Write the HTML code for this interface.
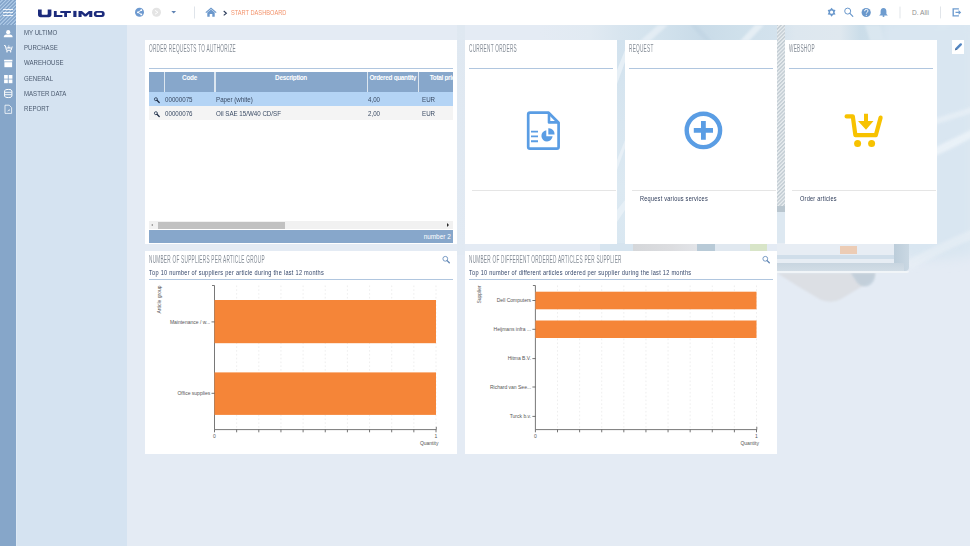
<!DOCTYPE html>
<html><head><meta charset="utf-8">
<style>
*{margin:0;padding:0;box-sizing:border-box}
html,body{width:970px;height:546px;overflow:hidden;background:#e4ebf4;font-family:"Liberation Sans",sans-serif;position:relative}
.a{position:absolute}
.t{white-space:nowrap;line-height:1}
#hdr{left:0;top:0;width:970px;height:25px;background:#fff}
#iconbar{left:0;top:0;width:16px;height:546px;background:#86a6c9}
#hatch{left:0;top:0;width:16px;height:25px;background:repeating-linear-gradient(135deg,#82a3c9 0,#86a7cc 0.9px,#adc9e6 1.5px,#adc9e6 2px,#82a3c9 2.6px)}
#side{left:16px;top:25px;width:111px;height:521px;background:#d5e3f1;border-left:1px solid #dde9f4}
.menu{left:24.3px;font-size:7px;color:#4a5a6f;transform-origin:0 0;transform:scaleX(0.868)}
.panel{background:#fff}
.ptitle{font-size:10px;color:#858d97;transform-origin:0 0;transform:scaleX(0.47);letter-spacing:0.55px}
.th{font-size:6.4px;font-weight:700;color:#fff;text-align:center;letter-spacing:-0.3px;overflow:hidden}
.td{font-size:6.8px;color:#3a4b64;transform-origin:0 0;transform:scaleX(0.91)}
.ct{font-size:7px;color:#2c3a58;transform-origin:0 0;transform:scaleX(0.8);letter-spacing:0.28px}
.sub{font-size:7px;color:#34466a;transform-origin:0 0;transform:scaleX(0.8);letter-spacing:0.33px}
.lb{font-family:"Liberation Sans",sans-serif;font-size:5px;fill:#555}
.pline{height:1px;background:#b0c6df}
</style></head><body>
<!-- background photo approximation -->
<div class="a" style="left:540px;top:25px;width:430px;height:16px;background:linear-gradient(90deg,#e4ebf4 0,#e1eaf2 50px,#d8e5ef 80px,#d2e2ed 120px,#c9dbe8 160px,#cfe0eb 200px,#d3e2ed 235px,#dde7ef 255px,#dfe8ef 300px,#cbdde9 320px,#d0e0eb 360px,#d9e6f0 400px,#dce8f1 430px)"></div>
<svg class="a" style="left:540px;top:25px" width="430" height="16" viewBox="0 0 430 16">
<defs><filter id="blt"><feGaussianBlur stdDeviation="1.2"/></filter></defs>
<g filter="url(#blt)">
<path d="M100 16 L118 0 H128 L110 16 Z" fill="#eaf1f7" opacity=".7"/>
<path d="M150 0 L165 16 H172 L157 0 Z" fill="#bfd3e2" opacity=".6"/>
<path d="M200 16 L215 0 H224 L209 16 Z" fill="#eef4f8" opacity=".7"/>
<path d="M325 0 L330 16 H345 L340 0 Z" fill="#e3ecf3" opacity=".6"/>
<path d="M385 16 L400 0 H410 L395 16 Z" fill="#eef4f8" opacity=".8"/>
</g>
</svg>
<div class="a" style="left:457px;top:25px;width:8px;height:230px;background:linear-gradient(180deg,#dfe8f1,#e2eaf3)"></div>
<div class="a" style="left:617px;top:40px;width:8px;height:211px;background:linear-gradient(180deg,#d2e2ee,#d8e6f0 40%,#dce9f2 70%,#d9e7f1)"></div>
<svg class="a" style="left:617px;top:40px" width="8" height="204" viewBox="0 0 8 204"><path d="M0 30 L8 10 V22 L0 44 Z M0 120 L8 100 V108 L0 130 Z M0 170 L8 160 V170 L0 182 Z" fill="#eaf1f7" opacity=".8"/></svg>
<div class="a" style="left:777px;top:25px;width:8px;height:181px;background:repeating-linear-gradient(135deg,#c2ccd3 0,#c9d2d8 0.8px,#e6ebee 1.4px,#e6ebee 2px,#c2ccd3 2.7px)"></div>
<div class="a" style="left:777px;top:205.5px;width:8px;height:6.5px;background:#b9c6cf"></div>
<div class="a" style="left:777px;top:212px;width:8px;height:40px;background:#dde8f1"></div>
<svg class="a" style="left:880px;top:25px" width="90" height="320" viewBox="880 25 90 320">
<defs><filter id="bl" x="-50%" y="-50%" width="200%" height="200%"><feGaussianBlur stdDeviation="6"/></filter><filter id="bl2"><feGaussianBlur stdDeviation="1.5"/></filter></defs>
<path d="M880 20 H975 V255 Q940 262 910 258 L880 255 Z" fill="#d9e6f1" filter="url(#bl)"/>
<path d="M930 150 Q950 140 975 128 V136 Q950 150 930 158 Z" fill="#eef4f9" opacity=".8" filter="url(#bl2)"/>
<path d="M930 120 Q950 114 975 106 V112 Q950 120 930 126 Z" fill="#eaf1f7" opacity=".7" filter="url(#bl2)"/>
<path d="M905 262 Q935 245 975 228 V238 Q935 255 910 270 Z" fill="#e9f0f6" opacity=".6" filter="url(#bl2)"/>
</svg>

<div class="a" style="left:600px;top:243px;width:33px;height:8px;background:#d6e4ef"></div>
<div class="a" style="left:633px;top:243px;width:64px;height:8px;background:linear-gradient(90deg,#d5d7da,#dcdde0 60%,#e2e4e8)"></div>
<div class="a" style="left:697px;top:243px;width:18px;height:8px;background:#b8cad7"></div>
<div class="a" style="left:715px;top:243px;width:35px;height:8px;background:#e0e8f0"></div>
<div class="a" style="left:750px;top:243px;width:17px;height:8px;background:#d8e5c8"></div>
<!-- laptop bottom -->
<div class="a" style="left:777px;top:243px;width:117px;height:20px;background:#e7edf4"></div>
<div class="a" style="left:777px;top:255px;width:117px;height:3.5px;background:#d0deea"></div>
<div class="a" style="left:840px;top:246px;width:16.5px;height:7.5px;background:#ecccb5"></div>
<div class="a" style="left:893.5px;top:243px;width:15px;height:28px;background:linear-gradient(90deg,#bccdda,#cad8e3);border-radius:0 0 4px 0"></div>
<div class="a" style="left:777px;top:262.5px;width:127px;height:8.5px;background:linear-gradient(180deg,#c8d5e0,#d2dde6)"></div>
<div class="a" style="left:777px;top:271px;width:132px;height:2.2px;background:#f1f5f8;border-radius:0 0 4px 0"></div>

<svg class="a" style="left:777px;top:273px" width="110" height="32" viewBox="0 0 110 32"><defs><filter id="bl3"><feGaussianBlur stdDeviation="0.8"/></filter></defs><path d="M0 0 L22 14 L44 27 Q55 31 64 26 L84 14 Q92 9 96 5 L99 0 Z" fill="#dcdfe4" filter="url(#bl3)"/><path d="M74 0 H98 Q99 9 91 13 Q83 15 79 8 Z" fill="#bfcdd9" opacity=".85" filter="url(#bl3)"/></svg>
<div class="a" id="hdr"></div>
<div class="a" id="iconbar"></div>
<div class="a" id="hatch"></div>
<div class="a" id="side"></div>


<!-- hatch & hamburger -->
<div class="a" style="left:3.3px;top:9px;width:9.5px;height:1.3px;background:rgba(255,255,255,.85)"></div>
<div class="a" style="left:3.3px;top:11.7px;width:9.5px;height:1.3px;background:rgba(255,255,255,.85)"></div>
<div class="a" style="left:3.3px;top:14.5px;width:9.5px;height:1.3px;background:rgba(255,255,255,.85)"></div>
<!-- logo -->
<svg class="a" style="left:0;top:0" width="110" height="25" viewBox="0 0 110 25" fill="#1c2b7c">
<path d="M38 9.6 H41.7 V14.1 Q41.7 14.8 42.4 14.8 H47 Q47.7 14.8 47.7 14.1 V9.6 H51.4 V14.6 Q51.4 17.2 48.8 17.2 H40.6 Q38 17.2 38 14.6 Z"/>
<path d="M53.9 10.9 H56.7 V15 H62.4 V17 H53.9 Z"/>
<path d="M60.3 10.9 H70.9 V12.9 H67 V17 H64.2 V12.9 H60.3 Z"/>
<path d="M73.3 10.9 H76.5 V17 H73.3 Z"/>
<path d="M78.5 17 V10.9 H81.9 L85.4 14 L88.9 10.9 H92.3 V17 H89.2 V13.7 L86.3 16.4 H84.5 L81.6 13.7 V17 Z"/>
<path fill-rule="evenodd" d="M96.6 10.9 H101.9 Q104.7 10.9 104.7 13.95 Q104.7 17 101.9 17 H96.6 Q93.8 17 93.8 13.95 Q93.8 10.9 96.6 10.9 Z M97 12.8 Q96.5 12.8 96.5 13.3 V14.6 Q96.5 15.1 97 15.1 H101.4 Q101.9 15.1 101.9 14.6 V13.3 Q101.9 12.8 101.4 12.8 Z"/>
</svg>
<!-- header left icons -->
<svg class="a" style="left:128px;top:0" width="100" height="25" viewBox="128 0 100 25">
<circle cx="139.5" cy="12.3" r="4.5" fill="#6e9ad0"/>
<path d="M141.3 10.2 L137.9 12.3 L141.3 14.4" fill="none" stroke="#fff" stroke-width="0.9"/>
<circle cx="141.3" cy="10.2" r="0.9" fill="#fff"/><circle cx="137.9" cy="12.3" r="0.9" fill="#fff"/><circle cx="141.3" cy="14.4" r="0.9" fill="#fff"/>
<circle cx="156.5" cy="12.3" r="4.5" fill="#e4e4e4"/>
<path d="M155 10.4 L158 12.3 L155 14.2" fill="none" stroke="#fff" stroke-width="0.9"/>
<path d="M171.3 11 H176.1 L173.7 13.5 Z" fill="#5f83b3"/>
<rect x="194" y="6.5" width="1" height="12" fill="#dfe4ea"/>
<path d="M205.8 12.6 L211 8.3 L216.2 12.6" fill="none" stroke="#6b98cc" stroke-width="1.2"/>
<path d="M207.3 12.4 L211 9.6 L214.7 12.4 V16.7 H212.3 V14 H209.7 V16.7 H207.3 Z" fill="#6b98cc"/>
<path d="M223.7 11 L226.4 13.2 L223.7 15.4" fill="none" stroke="#2d3d5c" stroke-width="1.1"/>
</svg>
<!-- header right icons -->
<svg class="a" style="left:820px;top:0" width="150" height="25" viewBox="820 0 150 25">
<g fill="#6a98cc">
<path fill-rule="evenodd" d="M831.6 7.7 L833.1 9.6 L835.5 10 L834.5 12.2 L835.5 14.4 L833.1 14.8 L831.6 16.7 L830.1 14.8 L827.7 14.4 L828.7 12.2 L827.7 10 L830.1 9.6 Z M831.6 10.6 A1.6 1.6 0 1 0 831.6 13.8 A1.6 1.6 0 1 0 831.6 10.6 Z"/>
</g>
<circle cx="847.7" cy="11.1" r="3" fill="none" stroke="#6a98cc" stroke-width="1"/>
<path d="M849.9 13.3 L852.8 16.3" stroke="#6a98cc" stroke-width="1.2" stroke-linecap="round"/>
<circle cx="866.2" cy="12.5" r="4.6" fill="#6a98cc"/>
<path d="M864.6 11.2 Q864.6 9.4 866.3 9.4 Q868 9.4 868 10.9 Q868 11.9 866.9 12.4 Q866.3 12.7 866.3 13.6" fill="none" stroke="#fff" stroke-width="1"/>
<circle cx="866.3" cy="15.3" r="0.6" fill="#fff"/>
<path d="M883.5 8.1 Q886.4 8.3 886.4 11.5 V14 L887.9 15.6 H879.1 L880.6 14 V11.5 Q880.6 8.3 883.5 8.1 Z" fill="#6e9ccf"/>
<circle cx="883.5" cy="16" r="1" fill="#6e9ccf"/>
<rect x="899.5" y="6.6" width="1" height="11.8" fill="#e1e5ea"/>
<rect x="940" y="6.5" width="1" height="11.9" fill="#e1e5ea"/>
<path d="M958.9 8.9 H953.2 V15.9 H958.9" fill="none" stroke="#6e9ccf" stroke-width="1.4"/>
<path d="M955.5 11.8 H958.6 V10.1 L961.2 12.4 L958.6 14.7 V13 H955.5 Z" fill="#6e9ccf"/>
</svg>
<!-- sidebar icons -->
<svg class="a" style="left:0;top:25px" width="16" height="95" viewBox="0 25 16 95" fill="#fff">
<circle cx="8.2" cy="32.2" r="2.1"/>
<path d="M3.8 37.3 Q3.8 34.5 6.5 34.5 H9.9 Q12.6 34.5 12.6 37.3 Z"/>
<path d="M4 45.6 H5.3 L6.5 50.3 H11.1 L12.2 46.5" fill="none" stroke="#fff" stroke-width="1"/>
<rect x="6.4" y="47.5" width="4.6" height="1"/>
<circle cx="7" cy="51.8" r="0.8"/><circle cx="10.6" cy="51.8" r="0.8"/>
<path d="M8.8 45.3 V48 M7.6 46.8 L8.8 48 L10 46.8" fill="none" stroke="#fff" stroke-width="0.7"/>
<rect x="4.1" y="59.8" width="8.3" height="1.7"/>
<rect x="4.4" y="62.2" width="7.7" height="5"/>
<rect x="4.1" y="75" width="3.7" height="3.7"/><rect x="8.7" y="75" width="3.7" height="3.7"/>
<rect x="4.1" y="79.5" width="3.7" height="3.7"/><rect x="8.7" y="79.5" width="3.7" height="3.7"/>
<path d="M4.6 90.9 Q4.6 89.4 8.25 89.4 Q11.9 89.4 11.9 90.9 V96.1 Q11.9 97.6 8.25 97.6 Q4.6 97.6 4.6 96.1 Z" fill="none" stroke="#fff" stroke-width="1"/>
<path d="M4.8 92.3 H11.7 M4.8 94.7 H11.7" stroke="#fff" stroke-width="0.9"/>
<path d="M5 105.2 H9.2 L11.6 107.6 V113.4 H5 Z" fill="none" stroke="#fff" stroke-width="0.9" opacity="0.85"/>
<path d="M7 111.5 L9.5 109 L10 110.5 Z" fill="#fff" opacity="0.8"/>
</svg>
<!-- pencil button -->
<div class="a" style="left:952px;top:40.3px;width:12px;height:13.7px;background:#fff"></div>
<svg class="a" style="left:952px;top:40.3px" width="12" height="14" viewBox="0 0 12 14"><path d="M4.6 8.6 L8.8 4.4" stroke="#5386c2" stroke-width="2.4" stroke-linecap="round"/><path d="M2.9 10.4 L3.6 8.2 L5 9.6 Z" fill="#3b5a83"/></svg>

<!-- menu -->
<div class="a t menu" style="top:29px">MY ULTIMO</div>
<div class="a t menu" style="top:44.2px">PURCHASE</div>
<div class="a t menu" style="top:59.4px">WAREHOUSE</div>
<div class="a t menu" style="top:74.6px">GENERAL</div>
<div class="a t menu" style="top:89.8px">MASTER DATA</div>
<div class="a t menu" style="top:105px">REPORT</div>


<!-- header breadcrumb -->
<div class="a t" style="left:231px;top:10.4px;font-size:6.8px;color:#f3936b;transform-origin:0 0;transform:scaleX(0.833)">START DASHBOARD</div>
<div class="a t" style="left:912px;top:9.5px;font-size:6.6px;color:#8f8f8f">D. Alli</div>

<!-- Panels -->
<div class="a panel" style="left:145px;top:40px;width:312px;height:204px"></div>
<div class="a panel" style="left:465px;top:40px;width:152px;height:204px"></div>
<div class="a panel" style="left:625px;top:40px;width:152px;height:204px"></div>
<div class="a panel" style="left:785px;top:40px;width:152px;height:204px"></div>
<div class="a panel" style="left:145px;top:251px;width:312px;height:203px"></div>
<div class="a panel" style="left:465px;top:251px;width:312px;height:203px"></div>

<div class="a t ptitle" style="left:149px;top:43.5px">ORDER REQUESTS TO AUTHORIZE</div>
<div class="a t ptitle" style="left:469px;top:43.5px">CURRENT ORDERS</div>
<div class="a t ptitle" style="left:629px;top:43.5px">REQUEST</div>
<div class="a t ptitle" style="left:789px;top:43.5px">WEBSHOP</div>
<div class="a pline" style="left:149px;top:68px;width:304px"></div>
<div class="a pline" style="left:469px;top:68px;width:144px"></div>
<div class="a pline" style="left:629px;top:68px;width:144px"></div>
<div class="a pline" style="left:789px;top:68px;width:144px"></div>


<!-- order table -->
<div class="a" style="left:149px;top:71.5px;width:304px;height:20px;background:#87a7cb"></div>
<div class="a" style="left:163.5px;top:71.5px;width:1.5px;height:20px;background:#dce6f0"></div>
<div class="a" style="left:214px;top:71.5px;width:1.5px;height:20px;background:#dce6f0"></div>
<div class="a" style="left:366.5px;top:71.5px;width:1.5px;height:20px;background:#dce6f0"></div>
<div class="a" style="left:417.5px;top:71.5px;width:1.5px;height:20px;background:#dce6f0"></div>
<div class="a t th" style="left:165px;width:49px;top:74.5px">Code</div>
<div class="a t th" style="left:215.5px;width:151px;top:74.5px">Description</div>
<div class="a t th" style="left:368px;width:49.5px;top:74.5px">Ordered quantity</div>
<div class="a" style="left:419px;top:71.5px;width:34px;height:20px;overflow:hidden"><div class="a t th" style="left:0;top:3px;width:50px">Total price</div></div>
<div class="a" style="left:149px;top:91.7px;width:304px;height:14px;background:#b4d4f5"></div>
<div class="a" style="left:149px;top:105.7px;width:304px;height:14.3px;background:#f4f4f4"></div>
<div class="a t td" style="left:165.3px;top:97px">00000075</div>
<div class="a t td" style="left:216px;top:97px">Paper (white)</div>
<div class="a t td" style="left:368px;top:97px">4,00</div>
<div class="a t td" style="left:421.5px;top:97px">EUR</div>
<div class="a t td" style="left:165.3px;top:111px">00000076</div>
<div class="a t td" style="left:216px;top:111px">Oil SAE 15/W40 CD/SF</div>
<div class="a t td" style="left:368px;top:111px">2,00</div>
<div class="a t td" style="left:421.5px;top:111px">EUR</div>
<svg class="a" style="left:152.5px;top:96.5px" width="7" height="7" viewBox="0 0 7 7"><circle cx="2.9" cy="2.2" r="1.5" fill="none" stroke="#34465f" stroke-width="0.9"/><path d="M4 3.3 L6.2 5.5" stroke="#1f2d45" stroke-width="1.3" stroke-linecap="round"/></svg>
<svg class="a" style="left:152.5px;top:110.5px" width="7" height="7" viewBox="0 0 7 7"><circle cx="2.9" cy="2.2" r="1.5" fill="none" stroke="#34465f" stroke-width="0.9"/><path d="M4 3.3 L6.2 5.5" stroke="#1f2d45" stroke-width="1.3" stroke-linecap="round"/></svg>
<!-- scrollbar -->
<div class="a" style="left:149px;top:221.2px;width:303.5px;height:8px;background:#f1f1f1"></div>
<div class="a" style="left:157.8px;top:222px;width:127.7px;height:6.5px;background:#c1c1c1"></div>
<div class="a" style="left:151.3px;top:223.6px;width:0;height:0;border-top:1.6px solid transparent;border-bottom:1.6px solid transparent;border-right:2px solid #8a8a8a"></div>
<div class="a" style="left:446.8px;top:223px;width:0;height:0;border-top:2.2px solid transparent;border-bottom:2.2px solid transparent;border-left:2.6px solid #2b2b2b"></div>
<!-- footer -->
<div class="a" style="left:149px;top:229.8px;width:303.5px;height:13.2px;background:#87a7cb"></div>
<div class="a t" style="left:423.7px;top:233.5px;font-size:6.4px;color:#fff">number 2</div>

<!-- card bottoms -->
<div class="a" style="left:471.5px;top:190px;width:144px;height:1px;background:#e5e5e5"></div>
<div class="a" style="left:631.5px;top:190px;width:144px;height:1px;background:#e5e5e5"></div>
<div class="a" style="left:791.5px;top:190px;width:144px;height:1px;background:#e5e5e5"></div>
<div class="a t ct" style="left:639.7px;top:195px">Request various services</div>
<div class="a t ct" style="left:800px;top:195px">Order articles</div>
<!-- doc icon -->
<svg class="a" style="left:520px;top:105px" width="50" height="50" viewBox="0 0 50 50">
<path d="M10 7.7 H28.6 L38.6 17.7 V42 Q38.6 43.7 36.9 43.7 H10 Q8.2 43.7 8.2 42 V9.4 Q8.2 7.7 10 7.7 Z" fill="none" stroke="#5a9de4" stroke-width="2.7" stroke-linejoin="round"/>
<path d="M29 8 V17.4 H38.4" fill="none" stroke="#5a9de4" stroke-width="2.6" stroke-linejoin="round"/>
<path d="M11 26.6 H18 M11 31.4 H18 M11 36.2 H18" stroke="#5a9de4" stroke-width="1.9"/>
<path d="M26.3 25.3 A5.6 5.6 0 1 0 32.6 31.3 H26.3 Z" fill="#5a9de4"/>
<path d="M28.3 23.3 A5.7 5.7 0 0 1 34.6 29.6 H28.3 Z" fill="#5a9de4"/>
</svg>
<!-- plus icon -->
<svg class="a" style="left:680px;top:107px" width="47" height="47" viewBox="0 0 47 47">
<circle cx="23.4" cy="23.4" r="16.7" fill="none" stroke="#5a9de4" stroke-width="4.4"/>
<path d="M13.8 23.4 H33 M23.4 14 V32.8" stroke="#5a9de4" stroke-width="4.8"/>
</svg>
<!-- cart icon -->
<svg class="a" style="left:835px;top:105px" width="50" height="50" viewBox="0 0 50 50">
<path d="M11.6 11.4 H17.8 L20.4 30.2 H40.8 L45.6 12.6" fill="none" stroke="#f7c200" stroke-width="4.2" stroke-linecap="round" stroke-linejoin="round"/>
<circle cx="22.6" cy="38.5" r="3.5" fill="#f7c200"/>
<circle cx="36.6" cy="38.5" r="3.5" fill="#f7c200"/>
<path d="M29 8.7 H33 V16 H38.5 L31 24.7 L23 16 H29 Z" fill="#f7c200"/>
</svg>
<!-- charts -->
<div class="a t ptitle" style="left:149px;top:254.5px">NUMBER OF SUPPLIERS PER ARTICLE GROUP</div>
<div class="a t sub" style="left:149px;top:269px">Top 10 number of suppliers per article during the last 12 months</div>
<div class="a pline" style="left:149px;top:279px;width:304px"></div>
<svg class="a" style="left:145px;top:251px" width="312" height="203" viewBox="145 251 312 203">
<circle cx="445.3" cy="258.8" r="2.4" fill="none" stroke="#7b9dc6" stroke-width="1"/><path d="M447.1 260.6 L449.3 262.8" stroke="#5f85b3" stroke-width="1.3" stroke-linecap="round"/>
<line x1="236.65" y1="285.5" x2="236.65" y2="429.5" stroke="#e2e2e2" stroke-width="0.6" stroke-dasharray="1.6 2.2"/>
<line x1="258.80" y1="285.5" x2="258.80" y2="429.5" stroke="#e2e2e2" stroke-width="0.6" stroke-dasharray="1.6 2.2"/>
<line x1="280.95" y1="285.5" x2="280.95" y2="429.5" stroke="#e2e2e2" stroke-width="0.6" stroke-dasharray="1.6 2.2"/>
<line x1="303.10" y1="285.5" x2="303.10" y2="429.5" stroke="#e2e2e2" stroke-width="0.6" stroke-dasharray="1.6 2.2"/>
<line x1="325.25" y1="285.5" x2="325.25" y2="429.5" stroke="#e2e2e2" stroke-width="0.6" stroke-dasharray="1.6 2.2"/>
<line x1="347.40" y1="285.5" x2="347.40" y2="429.5" stroke="#e2e2e2" stroke-width="0.6" stroke-dasharray="1.6 2.2"/>
<line x1="369.55" y1="285.5" x2="369.55" y2="429.5" stroke="#e2e2e2" stroke-width="0.6" stroke-dasharray="1.6 2.2"/>
<line x1="391.70" y1="285.5" x2="391.70" y2="429.5" stroke="#e2e2e2" stroke-width="0.6" stroke-dasharray="1.6 2.2"/>
<line x1="413.85" y1="285.5" x2="413.85" y2="429.5" stroke="#e2e2e2" stroke-width="0.6" stroke-dasharray="1.6 2.2"/>
<line x1="436.00" y1="285.5" x2="436.00" y2="429.5" stroke="#e2e2e2" stroke-width="0.6" stroke-dasharray="1.6 2.2"/>
<path d="M212.0 285.5 H214.5 V429.6 H436.3 V426.8" fill="none" stroke="#606060" stroke-width="0.85"/>
<line x1="214.50" y1="429.6" x2="214.50" y2="432.3" stroke="#505050" stroke-width="0.8"/>
<line x1="236.65" y1="429.6" x2="236.65" y2="432.3" stroke="#505050" stroke-width="0.8"/>
<line x1="258.80" y1="429.6" x2="258.80" y2="432.3" stroke="#505050" stroke-width="0.8"/>
<line x1="280.95" y1="429.6" x2="280.95" y2="432.3" stroke="#505050" stroke-width="0.8"/>
<line x1="303.10" y1="429.6" x2="303.10" y2="432.3" stroke="#505050" stroke-width="0.8"/>
<line x1="325.25" y1="429.6" x2="325.25" y2="432.3" stroke="#505050" stroke-width="0.8"/>
<line x1="347.40" y1="429.6" x2="347.40" y2="432.3" stroke="#505050" stroke-width="0.8"/>
<line x1="369.55" y1="429.6" x2="369.55" y2="432.3" stroke="#505050" stroke-width="0.8"/>
<line x1="391.70" y1="429.6" x2="391.70" y2="432.3" stroke="#505050" stroke-width="0.8"/>
<line x1="413.85" y1="429.6" x2="413.85" y2="432.3" stroke="#505050" stroke-width="0.8"/>
<line x1="436.00" y1="429.6" x2="436.00" y2="432.3" stroke="#505050" stroke-width="0.8"/>
<rect x="214.5" y="300" width="221.50" height="43.20" fill="#f58538"/>
<rect x="214.5" y="372.4" width="221.50" height="42.50" fill="#f58538"/>
<line x1="211.5" y1="321.9" x2="214.5" y2="321.9" stroke="#505050" stroke-width="0.8"/>
<text x="210.2" y="323.7" text-anchor="end" class="lb">Maintenance / w...</text>
<line x1="211.5" y1="393.3" x2="214.5" y2="393.3" stroke="#505050" stroke-width="0.8"/>
<text x="210.2" y="395.1" text-anchor="end" class="lb">Office supplies</text>
<text x="214.5" y="438.2" text-anchor="middle" class="lb">0</text>
<text x="436" y="438.2" text-anchor="middle" class="lb">1</text>
<text x="438.5" y="444.8" text-anchor="end" class="lb">Quantity</text>
<text x="161.3" y="299.5" text-anchor="middle" class="lb" transform="rotate(-90 161.3 299.5)">Article group</text>
</svg>
<div class="a t ptitle" style="left:469px;top:254.5px">NUMBER OF DIFFERENT ORDERED ARTICLES PER SUPPLIER</div>
<div class="a t sub" style="left:469px;top:269px">Top 10 number of different articles ordered per supplier during the last 12 months</div>
<div class="a pline" style="left:469px;top:279px;width:304px"></div>
<svg class="a" style="left:465px;top:251px" width="312" height="203" viewBox="465 251 312 203">
<circle cx="765.3" cy="258.8" r="2.4" fill="none" stroke="#7b9dc6" stroke-width="1"/><path d="M767.0999999999999 260.6 L769.3 262.8" stroke="#5f85b3" stroke-width="1.3" stroke-linecap="round"/>
<line x1="557.51" y1="285.5" x2="557.51" y2="429.5" stroke="#e2e2e2" stroke-width="0.6" stroke-dasharray="1.6 2.2"/>
<line x1="579.62" y1="285.5" x2="579.62" y2="429.5" stroke="#e2e2e2" stroke-width="0.6" stroke-dasharray="1.6 2.2"/>
<line x1="601.73" y1="285.5" x2="601.73" y2="429.5" stroke="#e2e2e2" stroke-width="0.6" stroke-dasharray="1.6 2.2"/>
<line x1="623.84" y1="285.5" x2="623.84" y2="429.5" stroke="#e2e2e2" stroke-width="0.6" stroke-dasharray="1.6 2.2"/>
<line x1="645.95" y1="285.5" x2="645.95" y2="429.5" stroke="#e2e2e2" stroke-width="0.6" stroke-dasharray="1.6 2.2"/>
<line x1="668.06" y1="285.5" x2="668.06" y2="429.5" stroke="#e2e2e2" stroke-width="0.6" stroke-dasharray="1.6 2.2"/>
<line x1="690.17" y1="285.5" x2="690.17" y2="429.5" stroke="#e2e2e2" stroke-width="0.6" stroke-dasharray="1.6 2.2"/>
<line x1="712.28" y1="285.5" x2="712.28" y2="429.5" stroke="#e2e2e2" stroke-width="0.6" stroke-dasharray="1.6 2.2"/>
<line x1="734.39" y1="285.5" x2="734.39" y2="429.5" stroke="#e2e2e2" stroke-width="0.6" stroke-dasharray="1.6 2.2"/>
<line x1="756.50" y1="285.5" x2="756.50" y2="429.5" stroke="#e2e2e2" stroke-width="0.6" stroke-dasharray="1.6 2.2"/>
<path d="M532.9 285.5 H535.4 V429.6 H756.8 V426.8" fill="none" stroke="#606060" stroke-width="0.85"/>
<line x1="535.40" y1="429.6" x2="535.40" y2="432.3" stroke="#505050" stroke-width="0.8"/>
<line x1="557.51" y1="429.6" x2="557.51" y2="432.3" stroke="#505050" stroke-width="0.8"/>
<line x1="579.62" y1="429.6" x2="579.62" y2="432.3" stroke="#505050" stroke-width="0.8"/>
<line x1="601.73" y1="429.6" x2="601.73" y2="432.3" stroke="#505050" stroke-width="0.8"/>
<line x1="623.84" y1="429.6" x2="623.84" y2="432.3" stroke="#505050" stroke-width="0.8"/>
<line x1="645.95" y1="429.6" x2="645.95" y2="432.3" stroke="#505050" stroke-width="0.8"/>
<line x1="668.06" y1="429.6" x2="668.06" y2="432.3" stroke="#505050" stroke-width="0.8"/>
<line x1="690.17" y1="429.6" x2="690.17" y2="432.3" stroke="#505050" stroke-width="0.8"/>
<line x1="712.28" y1="429.6" x2="712.28" y2="432.3" stroke="#505050" stroke-width="0.8"/>
<line x1="734.39" y1="429.6" x2="734.39" y2="432.3" stroke="#505050" stroke-width="0.8"/>
<line x1="756.50" y1="429.6" x2="756.50" y2="432.3" stroke="#505050" stroke-width="0.8"/>
<rect x="535.4" y="291.7" width="221.10" height="17.60" fill="#f58538"/>
<rect x="535.4" y="320.5" width="221.10" height="17.50" fill="#f58538"/>
<line x1="532.4" y1="300.5" x2="535.4" y2="300.5" stroke="#505050" stroke-width="0.8"/>
<text x="531.1" y="302.3" text-anchor="end" class="lb">Dell Computers</text>
<line x1="532.4" y1="329.3" x2="535.4" y2="329.3" stroke="#505050" stroke-width="0.8"/>
<text x="531.1" y="331.1" text-anchor="end" class="lb">Heijmans infra ...</text>
<line x1="532.4" y1="358.6" x2="535.4" y2="358.6" stroke="#505050" stroke-width="0.8"/>
<text x="531.1" y="360.40000000000003" text-anchor="end" class="lb">Hitma B.V.</text>
<line x1="532.4" y1="387" x2="535.4" y2="387" stroke="#505050" stroke-width="0.8"/>
<text x="531.1" y="388.8" text-anchor="end" class="lb">Richard van See...</text>
<line x1="532.4" y1="416.4" x2="535.4" y2="416.4" stroke="#505050" stroke-width="0.8"/>
<text x="531.1" y="418.2" text-anchor="end" class="lb">Turck b.v.</text>
<text x="535.4" y="438.2" text-anchor="middle" class="lb">0</text>
<text x="756.5" y="438.2" text-anchor="middle" class="lb">1</text>
<text x="759.0" y="444.8" text-anchor="end" class="lb">Quantity</text>
<text x="480.8" y="294.4" text-anchor="middle" class="lb" transform="rotate(-90 480.8 294.4)">Supplier</text>
</svg>
</body></html>
